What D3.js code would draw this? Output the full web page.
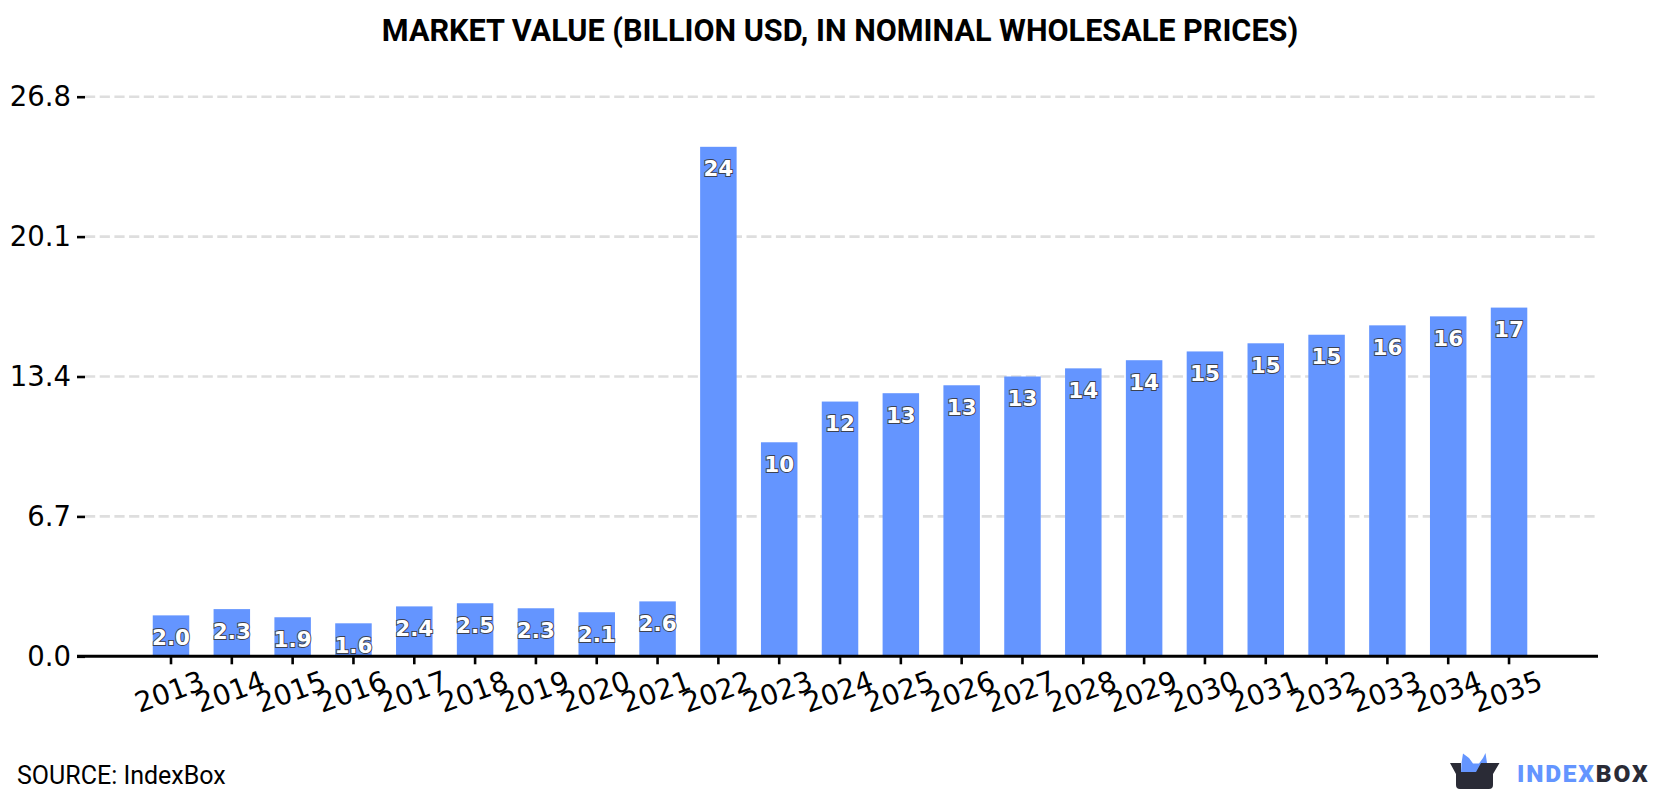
<!DOCTYPE html>
<html>
<head>
<meta charset="utf-8">
<script src="https://cdn.jsdelivr.net/npm/d3@7/dist/d3.min.js"></script>
<style>
  html, body { margin: 0; padding: 0; background: #fff; }
  svg { display: block; }
</style>
</head>
<body>
<svg id="chart" width="1680" height="800"></svg>
<script>
const years = ["2013","2014","2015","2016","2017","2018","2019","2020","2021","2022","2023","2024","2025","2026","2027","2028","2029","2030","2031","2032","2033","2034","2035"];
const marketValue = [1.96,2.26,1.87,1.58,2.39,2.54,2.30,2.11,2.63,24.4,10.25,12.2,12.6,12.98,13.4,13.79,14.18,14.6,14.99,15.4,15.85,16.28,16.7];
const yTickValues = [0, 6.7, 13.4, 20.1, 26.8];
const chartTitle = "MARKET VALUE (BILLION USD, IN NOMINAL WHOLESALE PRICES)";
const sourceNote = "SOURCE: IndexBox";

const BLUE = "#6495ff";
const DARK = "#2a2b36";
const svg = d3.select("#chart");

const plot = { left: 77, right: 1598, top: 96.7, bottom: 656.3 };
const step = 60.82;
const x = d3.scaleBand()
  .domain(years)
  .range([171 - step / 2, 171 - step / 2 + step * years.length])
  .paddingInner(0.4).paddingOuter(0.2);
const barCentre = d => x(d) + x.bandwidth() / 2;
const y = d3.scaleLinear().domain([0, 26.8]).range([plot.bottom, plot.top]);

// Dashed horizontal grid
svg.append("g").selectAll("line")
  .data(yTickValues.filter(v => v > 0))
  .join("line")
  .attr("x1", 85).attr("x2", plot.right)
  .attr("y1", d => y(d)).attr("y2", d => y(d))
  .attr("stroke", "#dedede").attr("stroke-width", 2.6)
  .attr("stroke-dasharray", "10.2 4.5");

// Value axis: short black ticks, no domain line
const yAxis = d3.axisLeft(y)
  .tickValues(yTickValues)
  .tickFormat(d3.format(".1f"))
  .tickSize(8).tickPadding(6);
const yG = svg.append("g").attr("transform", `translate(${plot.left + 8},0)`).call(yAxis);
yG.select(".domain").remove();
yG.selectAll(".tick line").attr("stroke", "#000").attr("stroke-width", 2.6);
yG.selectAll(".tick text")
  .attr("font-family", "DejaVu Sans").attr("font-size", 27.5).attr("fill", "#000");

// Bars
svg.append("g").selectAll("rect")
  .data(years.map((yr, i) => ({ yr, v: marketValue[i] })))
  .join("rect")
  .attr("x", d => x(d.yr))
  .attr("width", x.bandwidth())
  .attr("y", d => y(d.v))
  .attr("height", d => y(0) - y(d.v))
  .attr("fill", BLUE);

// Category axis
const xAxis = d3.axisBottom(x).tickSize(8).tickFormat("");
const xG = svg.append("g").attr("transform", `translate(0,${plot.bottom})`).call(xAxis);
xG.select(".domain").remove();
xG.selectAll(".tick line").attr("stroke", "#000").attr("stroke-width", 2.6);

svg.append("g").selectAll("text")
  .data(years)
  .join("text")
  .attr("transform", d => `translate(${barCentre(d) - 1.5},692) rotate(-20)`)
  .attr("text-anchor", "middle")
  .attr("dominant-baseline", "central")
  .attr("font-family", "DejaVu Sans").attr("font-size", 28).attr("fill", "#000")
  .text(d => d);

// Baseline
svg.append("line")
  .attr("x1", plot.left).attr("x2", plot.right)
  .attr("y1", plot.bottom).attr("y2", plot.bottom)
  .attr("stroke", "#000").attr("stroke-width", 3);

// Value labels inside the bars, two significant digits
const labelFormat = d3.format(".2r");
svg.append("g").selectAll("text")
  .data(years.map((yr, i) => ({ yr, v: marketValue[i] })))
  .join("text")
  .attr("x", d => barCentre(d.yr))
  .attr("y", d => y(d.v) + 22)
  .attr("text-anchor", "middle")
  .attr("dominant-baseline", "central")
  .attr("font-family", "DejaVu Sans").attr("font-weight", "bold").attr("font-size", 21.5)
  .attr("fill", "#fff")
  .attr("stroke", "#3d4250").attr("stroke-width", 1.8)
  .attr("paint-order", "stroke")
  .text(d => labelFormat(d.v));

// Title and source
svg.append("text")
  .attr("x", 840).attr("y", 41)
  .attr("text-anchor", "middle")
  .attr("font-family", "Roboto").attr("font-weight", "bold").attr("font-size", 30.6)
  .attr("fill", "#000")
  .text(chartTitle);

svg.append("text")
  .attr("x", 17).attr("y", 784)
  .attr("font-family", "Roboto").attr("font-size", 25).attr("fill", "#000")
  .text(sourceNote);

// Brand mark: open box with a blue shape rising out of it
const logo = svg.append("g");
logo.append("path")
  .attr("d", "M1461 772 L1461.5 763 L1463 753.5 L1469 758 L1473 763.5 L1479 763.5 L1483 758 L1485.5 753 L1487 763 L1487.5 767 L1477 772 L1474 772 Z")
  .attr("fill", BLUE);
logo.append("path")
  .attr("d", "M1450 763 L1461 763 L1461 772 L1476 772 L1481 763 L1499.5 763 L1493 774 L1493 785 Q1493 789 1489 789 L1460 789 Q1456 789 1456 785 L1456 774 Z")
  .attr("fill", DARK);
const brand = logo.append("text")
  .attr("x", 1517).attr("y", 782)
  .attr("font-family", "Roboto").attr("font-weight", 900).attr("font-size", 24.5)
  .attr("letter-spacing", 1.8);
brand.append("tspan").attr("fill", BLUE).text("INDEX");
brand.append("tspan").attr("fill", DARK).text("BOX");
</script>
</body>
</html>
